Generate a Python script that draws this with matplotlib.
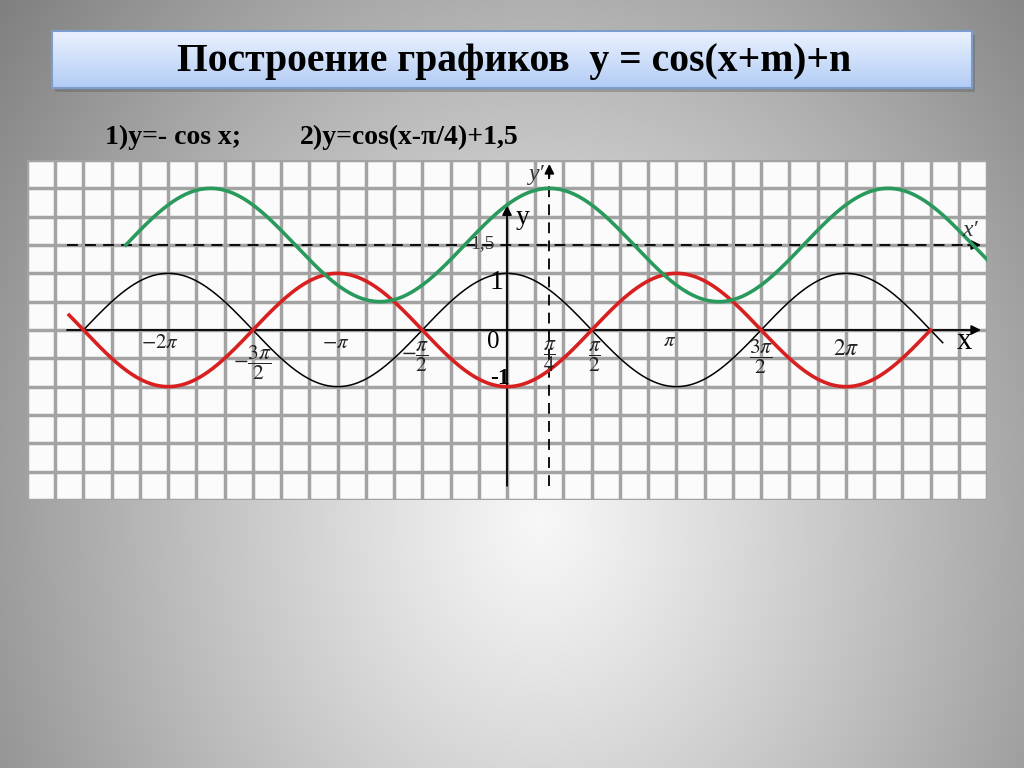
import numpy as np
import matplotlib
matplotlib.use('Agg')
import matplotlib.pyplot as plt
from matplotlib.patches import Rectangle

plt.rcParams['mathtext.fontset'] = 'stix'
plt.rcParams['font.family'] = ['Liberation Serif', 'DejaVu Serif']

# ---------------- content ----------------
title = "Построение графиков  y = cos(x+m)+n"
task1 = "1)y=- cos x;"
task2 = "2)y=cos(x-π/4)+1,5"

shift_m = -np.pi / 4          # y = cos(x + m) + n
shift_n = 1.5
black_range = (-5 * np.pi / 2, 8.08)     # y = cos x
red_range = (-8.12, 5 * np.pi / 2)       # y = -cos x
green_range = (-9 * np.pi / 4, 9.3)      # y = cos(x - pi/4) + 1.5

tick_vals = [-2 * np.pi, -3 * np.pi / 2, -np.pi, -np.pi / 2, np.pi / 4,
             np.pi / 2, np.pi, 3 * np.pi / 2, 2 * np.pi]
tick_labels = [r'$-2\pi$', r'$-\dfrac{3\pi}{2}$', r'$-\pi$', r'$-\dfrac{\pi}{2}$',
               r'$\dfrac{\pi}{4}$', r'$\dfrac{\pi}{2}$', r'$\pi$',
               r'$\dfrac{3\pi}{2}$', r'$2\pi$']
label_dx = [-0.15, 0.0, -0.03, -0.14, 0.0, 0.06, -0.12, 0.0, 0.0]
label_y = [-0.23, -0.58, -0.23, -0.47, -0.47, -0.47, -0.21, -0.47, -0.35]

# ---------------- figure ----------------
W, H = 1024, 768
fig = plt.figure(figsize=(W / 100, H / 100), dpi=100)

# background slide gradient
bg = fig.add_axes([0, 0, 1, 1], zorder=0)
bg.set_xlim(0, W)
bg.set_ylim(H, 0)
bg.axis('off')
yy, xx = np.mgrid[0:H, 0:W]
r = np.sqrt(((xx - 540) / 640.0) ** 2 + ((yy - 520) / 760.0) ** 2)
v = 0.97 - 0.43 * np.clip(r, 0, 1.3) ** 1.1
bg.imshow(np.dstack([v, v, v]), extent=(0, W, H, 0), aspect='auto', zorder=0)

# title box with shadow and gradient
bx0, by0, bx1, by1 = 52, 31, 972, 88
bg.add_patch(Rectangle((bx0 + 3, by0 + 4), bx1 - bx0, by1 - by0,
                       facecolor='#555555', alpha=0.35, edgecolor='none', zorder=1))
gy = np.linspace(0, 1, 60)[:, None]
top = np.array([0.92, 0.95, 1.0])
bot = np.array([0.70, 0.80, 0.96])
grad = top[None, None, :] * (1 - gy[..., None]) + bot[None, None, :] * gy[..., None]
grad = np.repeat(grad, 2, axis=1)
bg.imshow(grad, extent=(bx0, bx1, by1, by0), aspect='auto', zorder=2)
bg.add_patch(Rectangle((bx0, by0), bx1 - bx0, by1 - by0, facecolor='none',
                       edgecolor='#7d9ccc', lw=1.5, zorder=3))
bg.text((bx0 + bx1) / 2 + 2, 61, title, ha='center', va='center', fontsize=28.5,
        fontweight='bold', color='black', zorder=4)
bg.text(105, 137, task1, ha='left', va='center', fontsize=20,
        fontweight='bold', color='black')
bg.text(300, 137, task2, ha='left', va='center', fontsize=20,
        fontweight='bold', color='black')

# ---------------- graph panel ----------------
L, R, T, B = 27, 987, 160, 500
ax = fig.add_axes([L / W, 1 - B / H, (R - L) / W, (B - T) / H], zorder=2)
ax.set_facecolor('#fbfbfb')
xlim = 17 * np.pi / 6
ax.set_xlim(-xlim, xlim)
ax.set_ylim(-3, 3)
ax.set_xticks(np.arange(-17, 18) * np.pi / 6)
ax.set_yticks(np.arange(-6, 7) * 0.5)
ax.tick_params(length=0, labelbottom=False, labelleft=False)
ax.grid(True, color='#a3a3a3', lw=2.5)
ax.set_axisbelow(True)
for s in ax.spines.values():
    s.set_visible(False)

# axes with arrows
arrow_kw = dict(arrowstyle='-|>', lw=1.3, color='black', mutation_scale=14,
                shrinkA=0, shrinkB=0)
ax.annotate('', xy=(8.79, 0), xytext=(-8.16, 0), arrowprops=arrow_kw, zorder=3)
ax.annotate('', xy=(0, 2.2), xytext=(0, -2.75), arrowprops=arrow_kw, zorder=3)

# shifted (dashed) axes
ax.plot([-8.16, 8.6], [shift_n, shift_n], color='black', lw=1.3,
        ls=(0, (6, 4)), zorder=3)
ax.annotate('', xy=(8.79, shift_n), xytext=(8.55, shift_n), arrowprops=arrow_kw, zorder=3)
ax.plot([-shift_m, -shift_m], [-2.75, 2.8], color='black', lw=1.3,
        ls=(0, (6, 4)), zorder=3)
ax.annotate('', xy=(-shift_m, 2.93), xytext=(-shift_m, 2.7), arrowprops=arrow_kw, zorder=3)

# curves
xb = np.linspace(*black_range, 900)
ax.plot(xb, np.cos(xb), color='black', lw=1.1, zorder=4)
xr = np.linspace(*red_range, 900)
ax.plot(xr, -np.cos(xr), color='#d82020', lw=2.6, zorder=5)
xg = np.linspace(*green_range, 900)
ax.plot(xg, np.cos(xg + shift_m) + shift_n, color='#2a9a5c', lw=2.6, zorder=5)

# tick labels
for v0, lab, dx, ly in zip(tick_vals, tick_labels, label_dx, label_y):
    fs = 15.5 if 'frac' in lab else 15
    if lab == r'$2\pi$':
        fs = 17
    ax.text(v0 + dx, ly, lab, ha='center', va='center', fontsize=fs,
            color='#222222', zorder=6)

# other labels
ax.text(0.28, 1.98, 'y', ha='center', va='center', fontsize=20, zorder=6)
ax.text(8.49, -0.21, 'x', ha='center', va='center', fontsize=22, zorder=6)
ax.text(-0.26, -0.21, '0', ha='center', va='center', fontsize=18, zorder=6)
ax.text(-0.19, 0.83, '1', ha='center', va='center', fontsize=20, zorder=6)
ax.text(-0.13, -0.85, '-1', ha='center', va='center', fontsize=17,
        fontweight='bold', zorder=6)
ax.text(-0.45, 1.52, '1,5', ha='center', va='center', fontsize=14,
        color='#333333', zorder=6)
ax.text(0.56, 2.74, "y′", ha='center', va='center', fontsize=17,
        style='italic', color='#333333', zorder=6)
ax.text(8.59, 1.76, "x′", ha='center', va='center', fontsize=17,
        style='italic', color='#333333', zorder=6)

fig.savefig('out.png', dpi=100)
